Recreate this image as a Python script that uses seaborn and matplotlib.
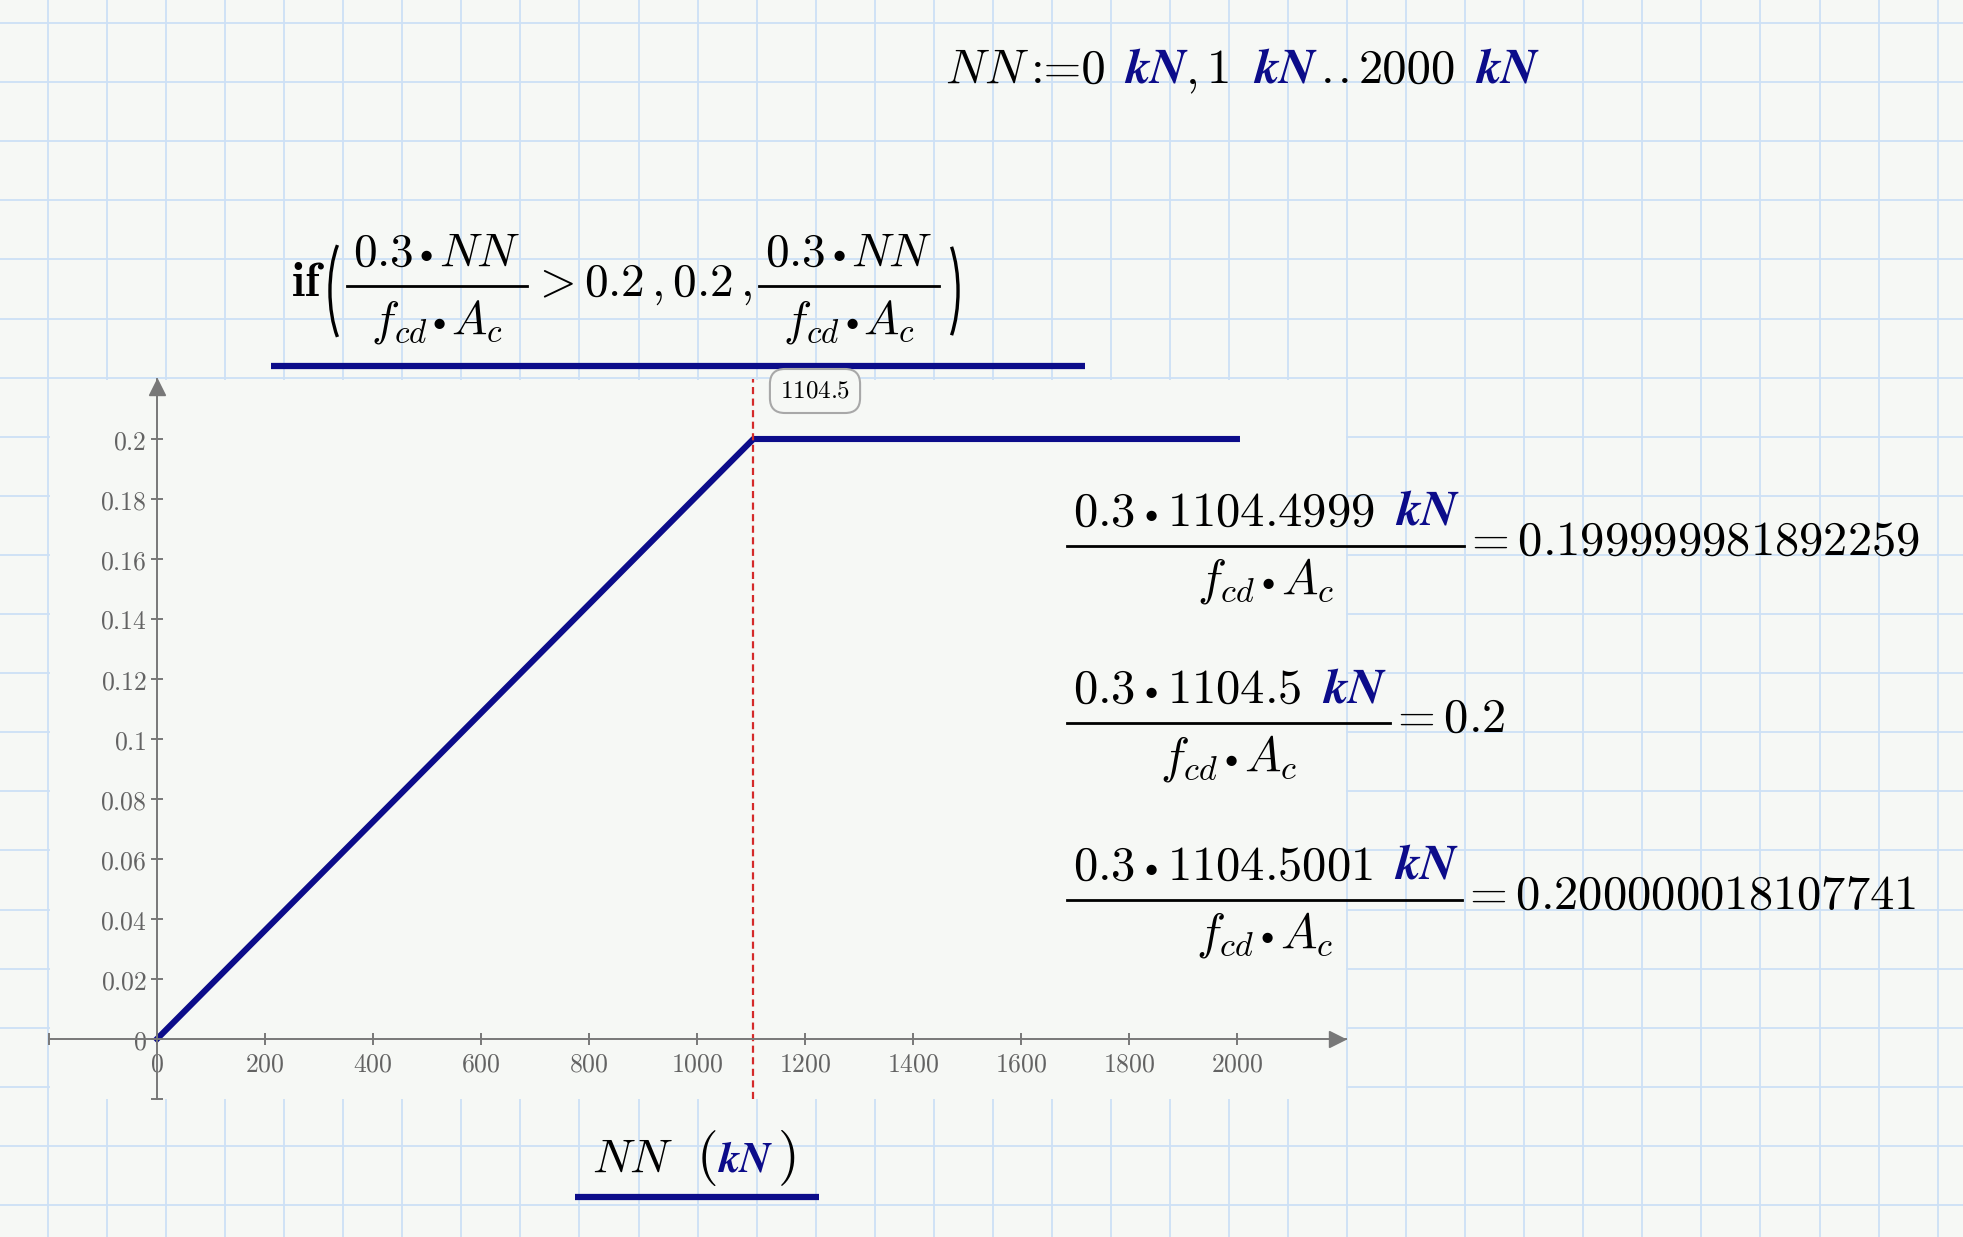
import numpy as np
import pandas as pd
import matplotlib
matplotlib.use("Agg")
import matplotlib.pyplot as plt
import seaborn as sns
from matplotlib.patches import Rectangle, Arc
from matplotlib.transforms import ScaledTranslation

plt.rcParams["mathtext.fontset"] = "cm"

# data
nn_kN = [0, 1104.5, 2000]
ratio = [0, 0.2, 0.2]
nn_limit = 1104.5
xtick_values = [0, 200, 400, 600, 800, 1000, 1200, 1400, 1600, 1800, 2000]
xtick_labels = ["0", "200", "400", "600", "800", "1000", "1200", "1400", "1600", "1800", "2000"]
ytick_values = [0, 0.02, 0.04, 0.06, 0.08, 0.1, 0.12, 0.14, 0.16, 0.18, 0.2]
ytick_labels = ["0", "0.02", "0.04", "0.06", "0.08", "0.1", "0.12", "0.14", "0.16", "0.18", "0.2"]
eq_inputs = ["1104.4999", "1104.5", "1104.5001"]
eq_results = ["0.199999981892259", "0.2", "0.200000018107741"]

BG = "#f6f8f5"
GRID = "#cde0f6"
NAVY = "#0c0c8a"
AXIS = "#787878"
TICKC = "#636363"
RED = "#d42a2a"
FS = 34

MATH = dict(fontsize=FS, color="black")
MATH35 = dict(fontsize=35, color="black")
RM = dict(fontsize=35, color="black", family="cmr10")
KN = dict(fontsize=36, color=NAVY, family="STIXGeneral", style="italic", weight="bold")
KN_SMALL = dict(fontsize=31, color=NAVY, family="STIXGeneral", style="italic", weight="bold")
BIGP = dict(fontsize=40, color="black")
BUL = (r"$\bullet$", dict(fontsize=19, color="black"), -5)

fig = plt.figure(figsize=(19.63, 12.37), dpi=100, facecolor=BG)

# worksheet page with its grid (pixel coordinates, y down)
bg = fig.add_axes([0, 0, 1, 1])
bg.set_xlim(0, 1963)
bg.set_ylim(1237, 0)
bg.axis("off")
for gx in 48 + 59.05 * np.arange(-1, 34):
    bg.axvline(gx, color=GRID, lw=1.3, zorder=0)
for gy in 23 + 59.1 * np.arange(0, 21):
    bg.axhline(gy, color=GRID, lw=1.3, zorder=0)
bg.add_patch(Rectangle((49.5, 379.5), 1346 - 49.5, 1099 - 379.5,
                       facecolor=BG, edgecolor="none", zorder=1))

# plot region
ax = fig.add_axes([49 / 1963, 1 - 1099 / 1237, (1346 - 49) / 1963, (1099 - 379) / 1237])
ax.patch.set_alpha(0)
df = pd.DataFrame({"NN": nn_kN, "ratio": ratio})
sns.lineplot(data=df, x="NN", y="ratio", ax=ax, color=NAVY, linewidth=4.4)
ax.axvline(nn_limit, color=RED, lw=1.6, dashes=(3.2, 2))
ax.set_xlim(-200, 2202)
ax.set_ylim(-0.02, 0.22)
ax.set_xlabel("")
ax.set_ylabel("")

for s in ["top", "right"]:
    ax.spines[s].set_visible(False)
for s in ["left", "bottom"]:
    ax.spines[s].set_position(("data", 0))
    ax.spines[s].set_color(AXIS)
    ax.spines[s].set_linewidth(1.4)

ax.set_xticks(xtick_values, [f"${l}$" for l in xtick_labels])
ax.set_yticks(ytick_values, [f"${l}$" for l in ytick_labels])
ax.tick_params(direction="inout", length=8.6, width=1.4, color=AXIS,
               labelcolor=TICKC, labelsize=18.5)
ax.tick_params(axis="x", pad=5)
ax.tick_params(axis="y", pad=3)


def off(dx, dy):
    return ScaledTranslation(dx / 100, dy / 100, fig.dpi_scale_trans)


ax.plot([0], [1], marker="^", ms=11, color=AXIS, clip_on=False,
        transform=ax.get_xaxis_transform() + off(0, -8))
ax.plot([1], [0], marker=">", ms=11, color=AXIS, clip_on=False,
        transform=ax.get_yaxis_transform() + off(-9, 0))
ax.plot([0], [0], marker="|", ms=8.6, mew=1.4, color=AXIS, clip_on=False,
        transform=ax.get_yaxis_transform())
ax.plot([0], [0], marker="_", ms=8.6, mew=1.4, color=AXIS, clip_on=False,
        transform=ax.get_xaxis_transform())

renderer = fig.canvas.get_renderer()


def chain(x, y, parts):
    # lay text pieces left to right on one baseline; numbers are extra gaps in px
    texts = []
    for p in parts:
        if isinstance(p, (int, float)):
            x += p
            continue
        s, kw = p[0], p[1]
        dy = p[2] if len(p) > 2 else 0
        t = bg.text(x, y + dy, s, ha="left", va="baseline", zorder=5, **kw)
        texts.append(t)
        x += t.get_window_extent(renderer=renderer).width
    return x, texts


def fraction(x0, ybar, num_parts, den_parts, pad=6):
    xe, _ = chain(x0 + pad, ybar - 20, num_parts)
    x1 = xe + pad
    bg.plot([x0, x1], [ybar, ybar], color="black", lw=2, zorder=5)
    w, texts = chain(0, ybar + 48, den_parts)
    shift = (x0 + x1) / 2 - w / 2
    for t in texts:
        t.set_x(t.get_position()[0] + shift)
    return x1


def paren(x_tip, yc, h, depth, side):
    a = 2 * depth
    b = (h / 2) / np.sin(np.radians(60))
    if side == "left":
        bg.add_patch(Arc((x_tip + a / 2, yc), 2 * a, 2 * b, theta1=120, theta2=240,
                         color="black", lw=2.4, zorder=5))
    else:
        bg.add_patch(Arc((x_tip - a / 2, yc), 2 * a, 2 * b, theta1=-60, theta2=60,
                         color="black", lw=2.4, zorder=5))


# range definition
chain(945, 83, [(r"$NN$", MATH35), 2, (":=0", RM), 18, ("kN", KN), (",", RM), 7, ("1", RM),
                23, ("kN", KN), 6, (".", RM), 4, (".", RM), 7, ("2000", RM), 20, ("kN", KN)])

# y expression and its underline
DEN = [(r"$f_{cd}$", MATH), 5, BUL, 5, (r"$A_c$", MATH)]
NUM = [(r"$0.3$", MATH), 6, BUL, 6, (r"$NN$", MATH)]
x, _ = chain(291, 296, [(r"$\mathbf{if}$", MATH)])
paren(x + 22, 291, 127, 17, "left")
x = fraction(x + 22, 286, NUM, DEN)
x, _ = chain(x + 4, 296, [(r"${>}0.2\,,0.2\,,$", MATH)])
x = fraction(x + 8, 286, NUM, DEN)
paren(x + 3, 291, 127, 16, "right")
bg.plot([271, 1085], [366, 366], color=NAVY, lw=4.5, solid_capstyle="butt", zorder=5)

# x label and its underline
chain(592, 1172, [(r"$NN$", MATH), 22, ("$($", BIGP), 3, ("kN", KN_SMALL), 5, ("$)$", BIGP)])
bg.plot([575, 819], [1197, 1197], color=NAVY, lw=4.5, solid_capstyle="butt", zorder=5)

# marker label
bg.text(815, 391, "$1104.5$", ha="center", va="center", fontsize=18, color="black", zorder=6,
        bbox=dict(boxstyle="round,pad=0.4,rounding_size=0.6", fc=BG, ec="#a8a8a8", lw=1.5))

# evaluated fractions
DEN35 = [(r"$f_{cd}$", MATH35), 6, BUL, 6, (r"$A_c$", MATH35)]
for val, res, ybar in zip(eq_inputs, eq_results, [546, 723, 900]):
    num = [(r"$0.3$", MATH35), 9, BUL, 9, (rf"${val}$", MATH35), 22, ("kN", KN)]
    x1 = fraction(1067, ybar, num, DEN35)
    bg.text(x1 - 1, ybar + 9, rf"${{=}}{res}$", ha="left", va="baseline", zorder=5, **MATH35)

fig.savefig("out.png", dpi=100, facecolor=BG)
